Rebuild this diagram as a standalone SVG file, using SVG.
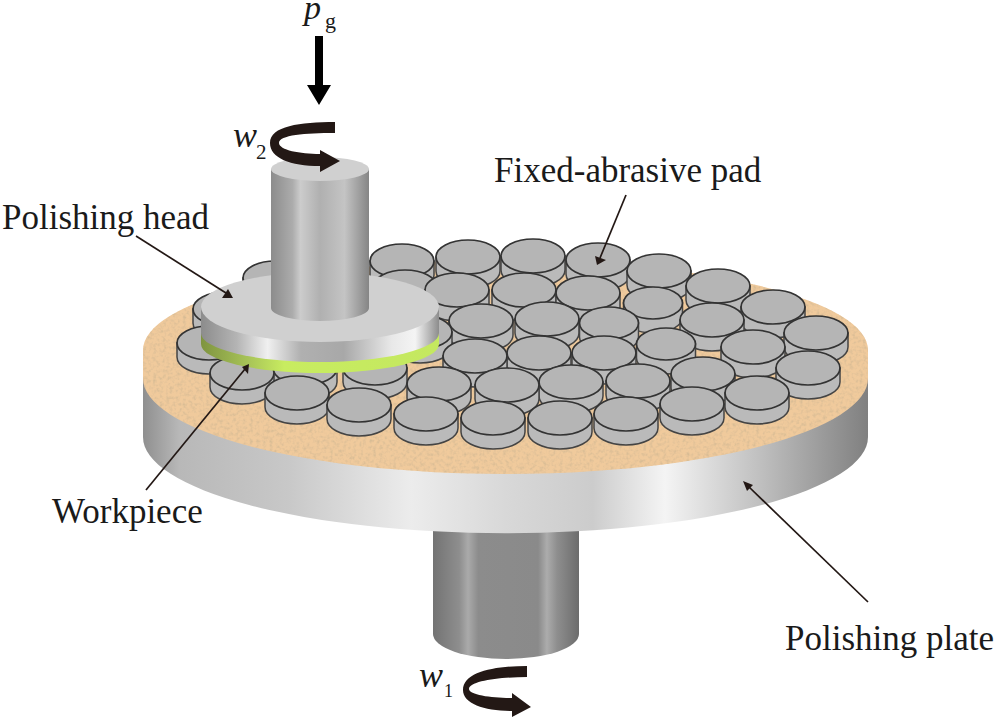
<svg xmlns="http://www.w3.org/2000/svg" width="996" height="718" viewBox="0 0 996 718">
<style>
text{font-family:"Liberation Serif","Times New Roman",serif;fill:#1a1a1a}
.lbl{font-size:35px}
.it{font-style:italic}
.ldr{stroke:#231815;stroke-width:1.7;fill:none}
.hd{fill:#231815}
.top{fill:#b5b5b5;stroke:#333;stroke-width:1.7}
.side{fill:#bababa;stroke:#444;stroke-width:1.5}
</style>
<defs>
<linearGradient id="plate" x1="143" x2="868" y1="0" y2="0" gradientUnits="userSpaceOnUse">
<stop offset="0" stop-color="#8f8f8f"/><stop offset=".05" stop-color="#b8b8b8"/><stop offset=".2" stop-color="#c8c8c8"/><stop offset=".37" stop-color="#ececec"/><stop offset=".5" stop-color="#d8d8d8"/><stop offset=".62" stop-color="#cccccc"/><stop offset=".72" stop-color="#f4f4f4"/><stop offset=".85" stop-color="#c0c0c0"/><stop offset="1" stop-color="#808080"/>
</linearGradient>
<linearGradient id="shaftLow" x1="433" x2="579" y1="0" y2="0" gradientUnits="userSpaceOnUse">
<stop offset="0" stop-color="#737373"/><stop offset=".18" stop-color="#8e8e8e"/><stop offset=".24" stop-color="#aaaaaa"/><stop offset=".31" stop-color="#8c8c8c"/><stop offset=".72" stop-color="#8a8a8a"/><stop offset=".78" stop-color="#acacac"/><stop offset=".85" stop-color="#8e8e8e"/><stop offset="1" stop-color="#6c6c6c"/>
</linearGradient>
<linearGradient id="shaftTop" x1="271" x2="369" y1="0" y2="0" gradientUnits="userSpaceOnUse">
<stop offset="0" stop-color="#8c8c8c"/><stop offset=".22" stop-color="#acacac"/><stop offset=".3" stop-color="#cccccc"/><stop offset=".5" stop-color="#b0b0b0"/><stop offset=".75" stop-color="#c4c4c4"/><stop offset="1" stop-color="#858585"/>
</linearGradient>
<linearGradient id="headSide" x1="201" x2="439" y1="0" y2="0" gradientUnits="userSpaceOnUse">
<stop offset="0" stop-color="#8c8c8c"/><stop offset=".15" stop-color="#b4b4b4"/><stop offset=".28" stop-color="#f0f0f0"/><stop offset=".42" stop-color="#b0b0b0"/><stop offset=".6" stop-color="#a8a8a8"/><stop offset=".8" stop-color="#e8e8e8"/><stop offset=".9" stop-color="#f4f4f4"/><stop offset="1" stop-color="#8c8c8c"/>
</linearGradient>
<linearGradient id="green" x1="201" x2="439" y1="0" y2="0" gradientUnits="userSpaceOnUse">
<stop offset="0" stop-color="#7f9440"/><stop offset=".2" stop-color="#a8c458"/><stop offset=".35" stop-color="#c8ec60"/><stop offset="1" stop-color="#c4e860"/>
</linearGradient>
<filter id="grain" x="0" y="0" width="100%" height="100%">
<feTurbulence type="fractalNoise" baseFrequency=".3" numOctaves="2" seed="4" result="n"/>
<feColorMatrix in="n" type="matrix" values="0 0 0 0 .68  0 0 0 0 .5  0 0 0 0 .3  0 0 0 2.2 -.95" result="c"/>
<feComposite in="c" in2="SourceGraphic" operator="in" result="s"/>
<feMerge><feMergeNode in="SourceGraphic"/><feMergeNode in="s"/></feMerge>
</filter>
<g id="puck">
<path class="side" d="M-32 0V14A32 17 0 0 0 32 14V0Z"/>
<ellipse class="top" rx="32" ry="17"/>
</g>
<g id="puckS">
<path class="side" d="M-29.500 0V14A29.500 16 0 0 0 29.500 14V0Z"/>
<ellipse class="top" rx="29.500" ry="16"/>
</g>
</defs>

<g id="lower-shaft">
<path d="M433 525V634A73 25 0 0 0 579 634V525Z" fill="url(#shaftLow)"/>
</g>

<g id="polishing-plate">
<path d="M143 378V437A362 96 0 0 0 868 437V378Z" fill="url(#plate)"/>
<path d="M143 350V378A362.500 96 0 0 0 868 378V350A362.500 90 0 0 0 143 350Z" fill="#f0ca9c" filter="url(#grain)"/>
</g>

<g id="fixed-abrasive-pad">
<use href="#puck" x="275" y="278"/>
<use href="#puck" x="468" y="257"/>
<use href="#puck" x="533" y="256"/>
<use href="#puck" x="402" y="261"/>
<use href="#puck" x="598" y="260"/>
<use href="#puck" x="659" y="271"/>
<use href="#puck" x="405" y="287"/>
<use href="#puck" x="718" y="286"/>
<use href="#puck" x="457" y="290"/>
<use href="#puck" x="524" y="290"/>
<use href="#puck" x="588" y="293"/>
<use href="#puckS" x="653" y="303"/>
<use href="#puck" x="773" y="307"/>
<use href="#puck" x="225" y="309"/>
<use href="#puck" x="547" y="319"/>
<use href="#puck" x="712" y="320"/>
<use href="#puck" x="481" y="321"/>
<use href="#puckS" x="609" y="323"/>
<use href="#puck" x="420" y="332"/>
<use href="#puck" x="816" y="333"/>
<use href="#puck" x="209" y="343"/>
<use href="#puckS" x="666" y="344"/>
<use href="#puck" x="753" y="347"/>
<use href="#puck" x="539" y="353"/>
<use href="#puck" x="604" y="353"/>
<use href="#puck" x="475" y="356"/>
<use href="#puck" x="375" y="368"/>
<use href="#puck" x="808" y="368"/>
<use href="#puck" x="305" y="368"/>
<use href="#puck" x="242" y="373"/>
<use href="#puck" x="703" y="374"/>
<use href="#puck" x="638" y="381"/>
<use href="#puck" x="571" y="382"/>
<use href="#puck" x="439" y="384"/>
<use href="#puck" x="507" y="385"/>
<use href="#puck" x="297" y="393"/>
<use href="#puck" x="757" y="393"/>
<use href="#puck" x="692" y="404"/>
<use href="#puck" x="359" y="405"/>
<use href="#puck" x="426" y="414"/>
<use href="#puck" x="626" y="414"/>
<use href="#puck" x="493" y="418"/>
<use href="#puck" x="560" y="418"/>
</g>

<g id="workpiece">
<path d="M201 333V344A119 29 0 0 0 439 344V333Z" fill="url(#green)"/>
</g>

<g id="polishing-head">
<path d="M201 307V333A119 29 0 0 0 439 333V307Z" fill="url(#headSide)"/>
<ellipse cx="320" cy="307" rx="119" ry="35" fill="#d0d0d0"/>
<path d="M271 169V308A49 13 0 0 0 369 308V169Z" fill="url(#shaftTop)"/>
<ellipse cx="320" cy="169" rx="49" ry="12" fill="#d0d0d0"/>
</g>

<g id="connectors">
<path class="ldr" d="M136 236L226 293"/>
<path class="hd" d="M233 298L222 298L228 289Z"/>
<path class="ldr" d="M146 490L245 369"/>
<path class="hd" d="M249 364L248 374L242 367Z"/>
<path class="ldr" d="M626 195L600 258"/>
<path class="hd" d="M597 265L595 256L606 260Z"/>
<path class="ldr" d="M868 602L748 486"/>
<path class="hd" d="M743 481L753 485L747 491Z"/>
<path d="M315 36H323V85H331L319 105L307 85H315Z" fill="#000"/>
<path class="hd" d="M335 122C300 122 270 126 270 143C270 158 290 166 320 166V172L340 161L320 150V154C300 154 279 150 279 143C279 135 305 133 335 133Z"/>
<path class="hd" d="M527 666C495 666 463 672 463 690C463 704 485 711 512 711V717L531 707L512 693V698C492 698 469 695 469 689C469 681 500 677 527 677Z"/>
</g>

<g id="labels">
<text class="lbl" x="2" y="229">Polishing head</text>
<text class="lbl" x="494" y="182">Fixed-abrasive pad</text>
<text class="lbl" x="52" y="523">Workpiece</text>
<text class="lbl" x="785" y="650">Polishing plate</text>
<text class="it" x="304" y="19" font-size="34">p</text>
<text x="325" y="28" font-size="22">g</text>
<text class="it" x="233" y="147" font-size="36">w</text>
<text x="256" y="159" font-size="21">2</text>
<text class="it" x="419" y="687" font-size="36">w</text>
<text x="444" y="697" font-size="18">1</text>
</g>
</svg>
